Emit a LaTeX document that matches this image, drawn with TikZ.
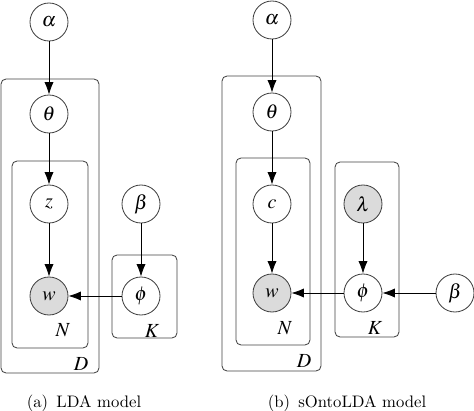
\documentclass[tikz,border=0pt]{standalone}
\usepackage{mathptmx}
\usetikzlibrary{arrows.meta,positioning}

\begin{document}
\begin{tikzpicture}[x=0.6pt, y=-0.6pt, ->, >={Latex[length=7.5pt,width=5.5pt]}, line width=0.5pt,
  latent/.style={circle, draw=black!75, minimum size=22.8pt, inner sep=0pt, font=\large},
  obs/.style={latent, fill=black!14},
  plate/.style={draw=black!75, rounded corners=3pt, -},
  platelabel/.style={font=\large}]
  \useasboundingbox (0,0) rectangle (474,411);

  % (a) LDA
  \node[latent] (aAlpha) at (49,22) {$\alpha$};
  \node[latent] (aTheta) at (49,114) {$\theta$};
  \node[latent] (aZ) at (49,204) {$z$};
  \node[obs] (aW) at (49,296) {$w$};
  \node[latent] (aBeta) at (141,204) {$\beta$};
  \node[latent] (aPhi) at (141,296) {$\phi$};

  \draw[plate] (1,79) rectangle (99,373);
  \draw[plate] (12,161) rectangle (88,348);
  \draw[plate] (112,255) rectangle (177,338);
  \node[platelabel] (aN) at (63,330) {$N$};
  \node[platelabel] (aD) at (81,364) {$D$};
  \node[platelabel] (aK) at (152,331) {$K$};

  \draw (aAlpha) -- (aTheta);
  \draw (aTheta) -- (aZ);
  \draw (aZ) -- (aW);
  \draw (aBeta) -- (aPhi);
  \draw (aPhi) -- (aW);

  \node (aCap) at (84,403) {(a)\enspace LDA model};

  % (b) sOntoLDA
  \node[latent] (bAlpha) at (272,20) {$\alpha$};
  \node[latent] (bTheta) at (272,112) {$\theta$};
  \node[latent] (bC) at (272,204) {$c$};
  \node[obs] (bW) at (272,293) {$w$};
  \node[obs] (bLambda) at (363,204) {$\lambda$};
  \node[latent] (bPhi) at (363,293) {$\phi$};
  \node[latent] (bBeta) at (455,293) {$\beta$};

  \draw[plate] (222,76) rectangle (321,371);
  \draw[plate] (236,158) rectangle (310,345);
  \draw[plate] (335,162) rectangle (399,337);
  \node[platelabel] (bN) at (285,328) {$N$};
  \node[platelabel] (bD) at (304,361) {$D$};
  \node[platelabel] (bK) at (375,328) {$K$};

  \draw (bAlpha) -- (bTheta);
  \draw (bTheta) -- (bC);
  \draw (bC) -- (bW);
  \draw (bLambda) -- (bPhi);
  \draw (bPhi) -- (bW);
  \draw (bBeta) -- (bPhi);

  \node (bCap) at (347,403) {(b)\enspace sOntoLDA model};
\end{tikzpicture}
\end{document}
